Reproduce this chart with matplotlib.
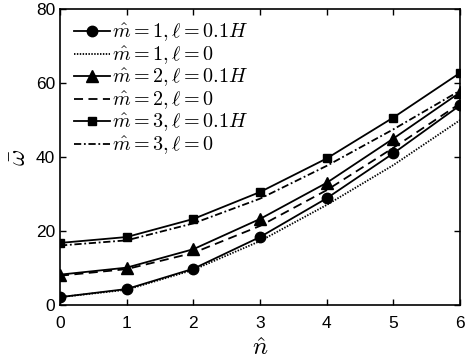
import numpy as np
import matplotlib.pyplot as plt

plt.rcParams['mathtext.fontset'] = 'cm'
plt.rcParams['font.family'] = 'Liberation Sans'

# data
n_hat = [0, 1, 2, 3, 4, 5, 6]

m1_l01 = [2.0, 4.2, 9.7, 18.3, 28.8, 41.0, 54.0]
m1_l0 = [2.0, 4.0, 9.4, 17.2, 27.0, 37.8, 50.0]
m2_l01 = [8.1, 10.0, 15.0, 23.2, 33.0, 45.0, 57.5]
m2_l0 = [7.8, 9.6, 14.0, 21.3, 31.0, 42.5, 54.5]
m3_l01 = [16.7, 18.3, 23.2, 30.5, 39.6, 50.7, 62.8]
m3_l0 = [16.0, 17.4, 22.0, 28.7, 37.6, 47.5, 58.0]

labels = [r'$\hat{m}=1,\ell=0.1H$', r'$\hat{m}=1,\ell=0$',
          r'$\hat{m}=2,\ell=0.1H$', r'$\hat{m}=2,\ell=0$',
          r'$\hat{m}=3,\ell=0.1H$', r'$\hat{m}=3,\ell=0$']

fig = plt.figure(figsize=(4.74, 3.62), dpi=100)
ax = fig.add_axes([0.1266, 0.1588, 0.8439, 0.815])

lw = 1.3
ax.plot(n_hat, m1_l01, 'k-', marker='o', ms=7.5, lw=lw, label=labels[0])
ax.plot(n_hat, m1_l0, 'k', ls=(0, (0.8, 0.8)), lw=lw, label=labels[1])
ax.plot(n_hat, m2_l01, 'k-', marker='^', ms=8, lw=lw, label=labels[2])
ax.plot(n_hat, m2_l0, 'k', ls=(0, (5, 3)), lw=lw, label=labels[3])
ax.plot(n_hat, m3_l01, 'k-', marker='s', ms=6, lw=lw, label=labels[4])
ax.plot(n_hat, m3_l0, 'k', ls=(0, (4, 1.5, 1, 1.5)), lw=lw, label=labels[5])

ax.set_xlim(0, 6)
ax.set_ylim(0, 80)
ax.set_xticks(n_hat)
ax.set_yticks([0, 20, 40, 60, 80])
ax.tick_params(direction='in', top=True, right=True, labelsize=12.5, length=4, width=1)
ax.tick_params(axis='x', pad=8)
for s in ax.spines.values():
    s.set_linewidth(1.2)

ax.set_xlabel(r'$\hat{n}$', fontsize=18, labelpad=4)
ax.set_ylabel(r'$\bar{\omega}$', fontsize=18, labelpad=4)

ax.legend(loc='upper left', frameon=False, fontsize=14.5, handlelength=1.8,
          handletextpad=0.1, labelspacing=0.0, borderaxespad=0.2,
          bbox_to_anchor=(0.005, 1.0))

fig.savefig('out.png', dpi=100)
